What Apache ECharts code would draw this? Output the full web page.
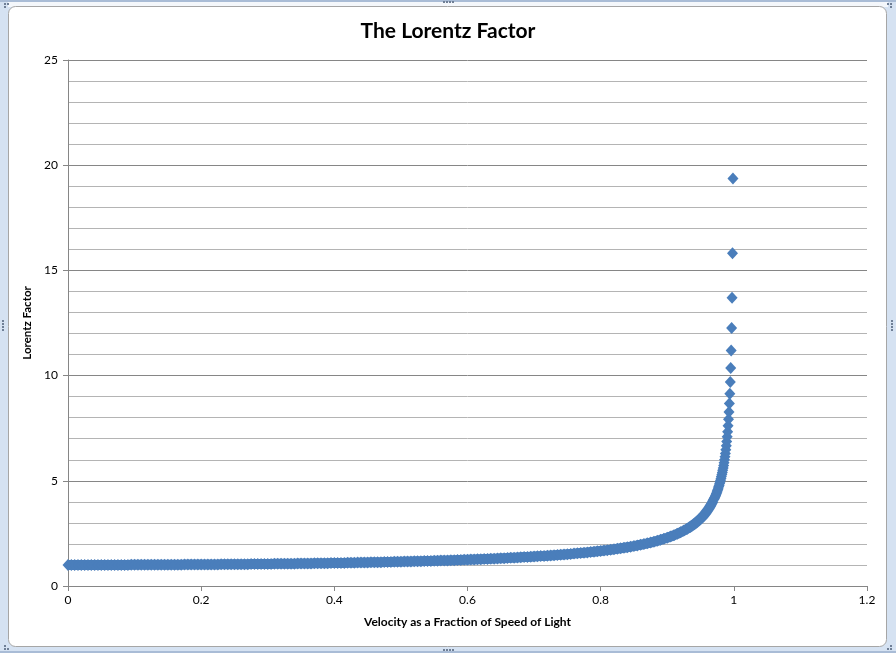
<!DOCTYPE html>
<html>
<head>
<meta charset="utf-8">
<script src="https://cdn.jsdelivr.net/npm/echarts@6/dist/echarts.min.js"></script>
<style>
html,body{margin:0;padding:0;background:#fff;}
#chart{width:896px;height:653px;}
</style>
</head>
<body>
<div id="chart"></div>
<script>
// Velocity (fraction of c) and Lorentz factor
var velocity = [
0.000,0.005,0.010,0.015,0.020,0.025,0.030,0.035,0.040,0.045,
0.050,0.055,0.060,0.065,0.070,0.075,0.080,0.085,0.090,0.095,
0.100,0.105,0.110,0.115,0.120,0.125,0.130,0.135,0.140,0.145,
0.150,0.155,0.160,0.165,0.170,0.175,0.180,0.185,0.190,0.195,
0.200,0.205,0.210,0.215,0.220,0.225,0.230,0.235,0.240,0.245,
0.250,0.255,0.260,0.265,0.270,0.275,0.280,0.285,0.290,0.295,
0.300,0.305,0.310,0.315,0.320,0.325,0.330,0.335,0.340,0.345,
0.350,0.355,0.360,0.365,0.370,0.375,0.380,0.385,0.390,0.395,
0.400,0.405,0.410,0.415,0.420,0.425,0.430,0.435,0.440,0.445,
0.450,0.455,0.460,0.465,0.470,0.475,0.480,0.485,0.490,0.495,
0.500,0.505,0.510,0.515,0.520,0.525,0.530,0.535,0.540,0.545,
0.550,0.555,0.560,0.565,0.570,0.575,0.580,0.585,0.590,0.595,
0.600,0.605,0.610,0.615,0.620,0.625,0.630,0.635,0.640,0.645,
0.650,0.655,0.660,0.665,0.670,0.675,0.680,0.685,0.690,0.695,
0.700,0.705,0.710,0.715,0.720,0.725,0.730,0.735,0.740,0.745,
0.750,0.755,0.760,0.765,0.770,0.775,0.780,0.785,0.790,0.795,
0.800,0.805,0.810,0.815,0.820,0.825,0.830,0.835,0.840,0.845,
0.850,0.855,0.860,0.865,0.870,0.875,0.880,0.885,0.890,0.895,
0.900,0.905,0.910,0.915,0.920,0.925,0.930,0.935,0.940,0.945,
0.950,0.955,0.960,0.965,
0.9700,0.9707,0.9713,0.9720,0.9727,0.9733,0.9740,0.9747,0.9753,0.9760,
0.9767,0.9773,0.9780,0.9787,0.9793,0.9800,0.9807,0.9813,0.9820,0.9827,
0.9833,0.9840,0.9847,0.9853,0.9860,0.9867,0.9873,0.9880,0.9887,0.9893,
0.9900,0.9907,0.9913,0.9920,0.9927,0.9933,0.9940,0.9947,0.9953,0.9960,
0.9967,0.9973,0.9980,0.9987
];
var lorentz = [
1.000,1.000,1.000,1.000,1.000,1.000,1.000,1.001,1.001,1.001,
1.001,1.002,1.002,1.002,1.002,1.003,1.003,1.004,1.004,1.005,
1.005,1.006,1.006,1.007,1.007,1.008,1.009,1.009,1.010,1.011,
1.011,1.012,1.013,1.014,1.015,1.016,1.017,1.018,1.019,1.020,
1.021,1.022,1.023,1.024,1.025,1.026,1.028,1.029,1.030,1.031,
1.033,1.034,1.036,1.037,1.039,1.040,1.042,1.043,1.045,1.047,
1.048,1.050,1.052,1.054,1.056,1.057,1.059,1.061,1.063,1.065,
1.068,1.070,1.072,1.074,1.076,1.079,1.081,1.084,1.086,1.089,
1.091,1.094,1.096,1.099,1.102,1.105,1.108,1.111,1.114,1.117,
1.120,1.123,1.126,1.130,1.133,1.136,1.140,1.143,1.147,1.151,
1.155,1.159,1.163,1.167,1.171,1.175,1.179,1.184,1.188,1.193,
1.197,1.202,1.207,1.212,1.217,1.222,1.228,1.233,1.239,1.244,
1.250,1.256,1.262,1.268,1.275,1.281,1.288,1.294,1.301,1.309,
1.316,1.323,1.331,1.339,1.347,1.355,1.364,1.373,1.382,1.391,
1.400,1.410,1.420,1.430,1.441,1.452,1.463,1.475,1.487,1.499,
1.512,1.525,1.539,1.553,1.567,1.582,1.598,1.614,1.631,1.649,
1.667,1.686,1.705,1.726,1.747,1.769,1.793,1.817,1.843,1.870,
1.898,1.928,1.960,1.993,2.028,2.066,2.105,2.148,2.193,2.242,
2.294,2.351,2.412,2.479,2.552,2.632,2.721,2.820,2.931,3.057,
3.203,3.372,3.571,3.813,
4.113,4.159,4.207,4.256,4.307,4.359,4.414,4.471,4.530,4.592,
4.656,4.724,4.794,4.867,4.944,5.025,5.110,5.200,5.294,5.394,
5.500,5.613,5.732,5.860,5.997,6.144,6.303,6.474,6.661,6.865,
7.089,7.336,7.612,7.922,8.272,8.675,9.142,9.696,10.363,11.192,
12.257,13.702,15.819,19.371
];
var xTicks = [0, 0.2, 0.4, 0.6, 0.8, 1, 1.2];
var yTicks = [0, 5, 10, 15, 20, 25];

var points = [];
var densePart = [];
for (var i = 0; i < velocity.length; i++) {
  points.push([velocity[i], lorentz[i]]);
  if (velocity[i] <= 0.97) densePart.push([velocity[i], lorentz[i]]);
}

function dots(x, y, horizontal) {
  var out = [];
  for (var k = 0; k < 4; k++) {
    out.push({type: 'rect', z: -8, silent: true,
      shape: horizontal ? {x: x + k * 3, y: y, width: 2, height: 2} : {x: x, y: y + k * 3, width: 2, height: 2},
      style: {fill: '#6f7f96'}});
  }
  return out;
}
function dot(x, y) {
  return {type: 'rect', z: -8, silent: true, shape: {x: x, y: y, width: 2, height: 2}, style: {fill: '#6f7f96'}};
}

var graphics = [
  {type: 'rect', z: -10, silent: true, shape: {x: 0, y: 0, width: 896, height: 653}, style: {fill: '#d5e2f2'}},
  {type: 'rect', z: -10, silent: true, shape: {x: 8, y: 2, width: 880, height: 5}, style: {fill: '#f4f7fb'}},
  {type: 'rect', z: -9, silent: true, shape: {x: 0, y: 0, width: 896, height: 2}, style: {fill: '#a9bcd6'}},
  {type: 'rect', z: -9, silent: true, shape: {x: 0, y: 651, width: 896, height: 2}, style: {fill: '#a9bcd6'}},
  {type: 'rect', z: -9, silent: true, shape: {x: 8.5, y: 6.5, width: 878, height: 640, r: 7}, style: {fill: '#ffffff', stroke: '#a6a6a6', lineWidth: 1}}
].concat(dots(443, 1, true), dots(443, 649, true), dots(2, 320, false), dots(891, 320, false), [
  dot(4, 3), dot(4, 6), dot(7, 3), dot(887, 3), dot(890, 3), dot(890, 6),
  dot(4, 645), dot(4, 648), dot(7, 648), dot(890, 645), dot(890, 648), dot(887, 648)
]);

var chart = echarts.init(document.getElementById('chart'), null, {renderer: 'canvas'});
var font = 'Lato, "Open Sans", sans-serif';
chart.setOption({
  animation: false,
  backgroundColor: '#ffffff',
  graphic: graphics,
  title: {
    text: 'The Lorentz Factor',
    left: 'center',
    top: 16,
    textStyle: {fontFamily: font, fontWeight: 'bold', fontSize: 21, color: '#000000'}
  },
  grid: {left: 68, right: 29, top: 60, bottom: 67, containLabel: false},
  xAxis: {
    type: 'value',
    min: 0, max: 1.2, interval: 0.2,
    name: 'Velocity as a Fraction of Speed of Light',
    nameLocation: 'middle',
    nameGap: 30,
    nameTextStyle: {fontFamily: font, fontWeight: 'bold', fontSize: 12, color: '#000000'},
    axisLine: {show: true, onZero: false, lineStyle: {color: '#868686', width: 1}},
    axisTick: {show: true, inside: false, length: 5, lineStyle: {color: '#868686'}},
    axisLabel: {fontFamily: font, fontSize: 12, color: '#000000', margin: 8,
      formatter: function (v) { return String(Math.round(v * 10) / 10); }},
    splitLine: {show: false}
  },
  yAxis: {
    type: 'value',
    min: 0, max: 25, interval: 5,
    name: 'Lorentz Factor',
    nameLocation: 'middle',
    nameGap: 31,
    nameTextStyle: {fontFamily: font, fontWeight: 'bold', fontSize: 11.5, color: '#000000'},
    axisLine: {show: true, lineStyle: {color: '#868686', width: 1}},
    axisTick: {show: true, inside: false, length: 5, lineStyle: {color: '#868686'}},
    axisLabel: {fontFamily: font, fontSize: 12, color: '#000000', margin: 10},
    splitLine: {show: true, lineStyle: {color: '#868686', width: 1}},
    minorTick: {show: false, splitNumber: 5},
    minorSplitLine: {show: true, lineStyle: {color: '#b4b4b4', width: 1}}
  },
  series: [{
    type: 'line',
    data: densePart,
    showSymbol: false,
    symbol: 'none',
    lineStyle: {color: '#4a7ebb', width: 10, cap: 'butt', join: 'round'},
    emphasis: {disabled: true},
    silent: true,
    z: 2
  }, {
    type: 'scatter',
    data: points,
    symbol: 'diamond',
    symbolSize: [11, 12],
    itemStyle: {color: '#4a7ebb', opacity: 1},
    emphasis: {disabled: true},
    z: 3
  }]
});
</script>
</body>
</html>
